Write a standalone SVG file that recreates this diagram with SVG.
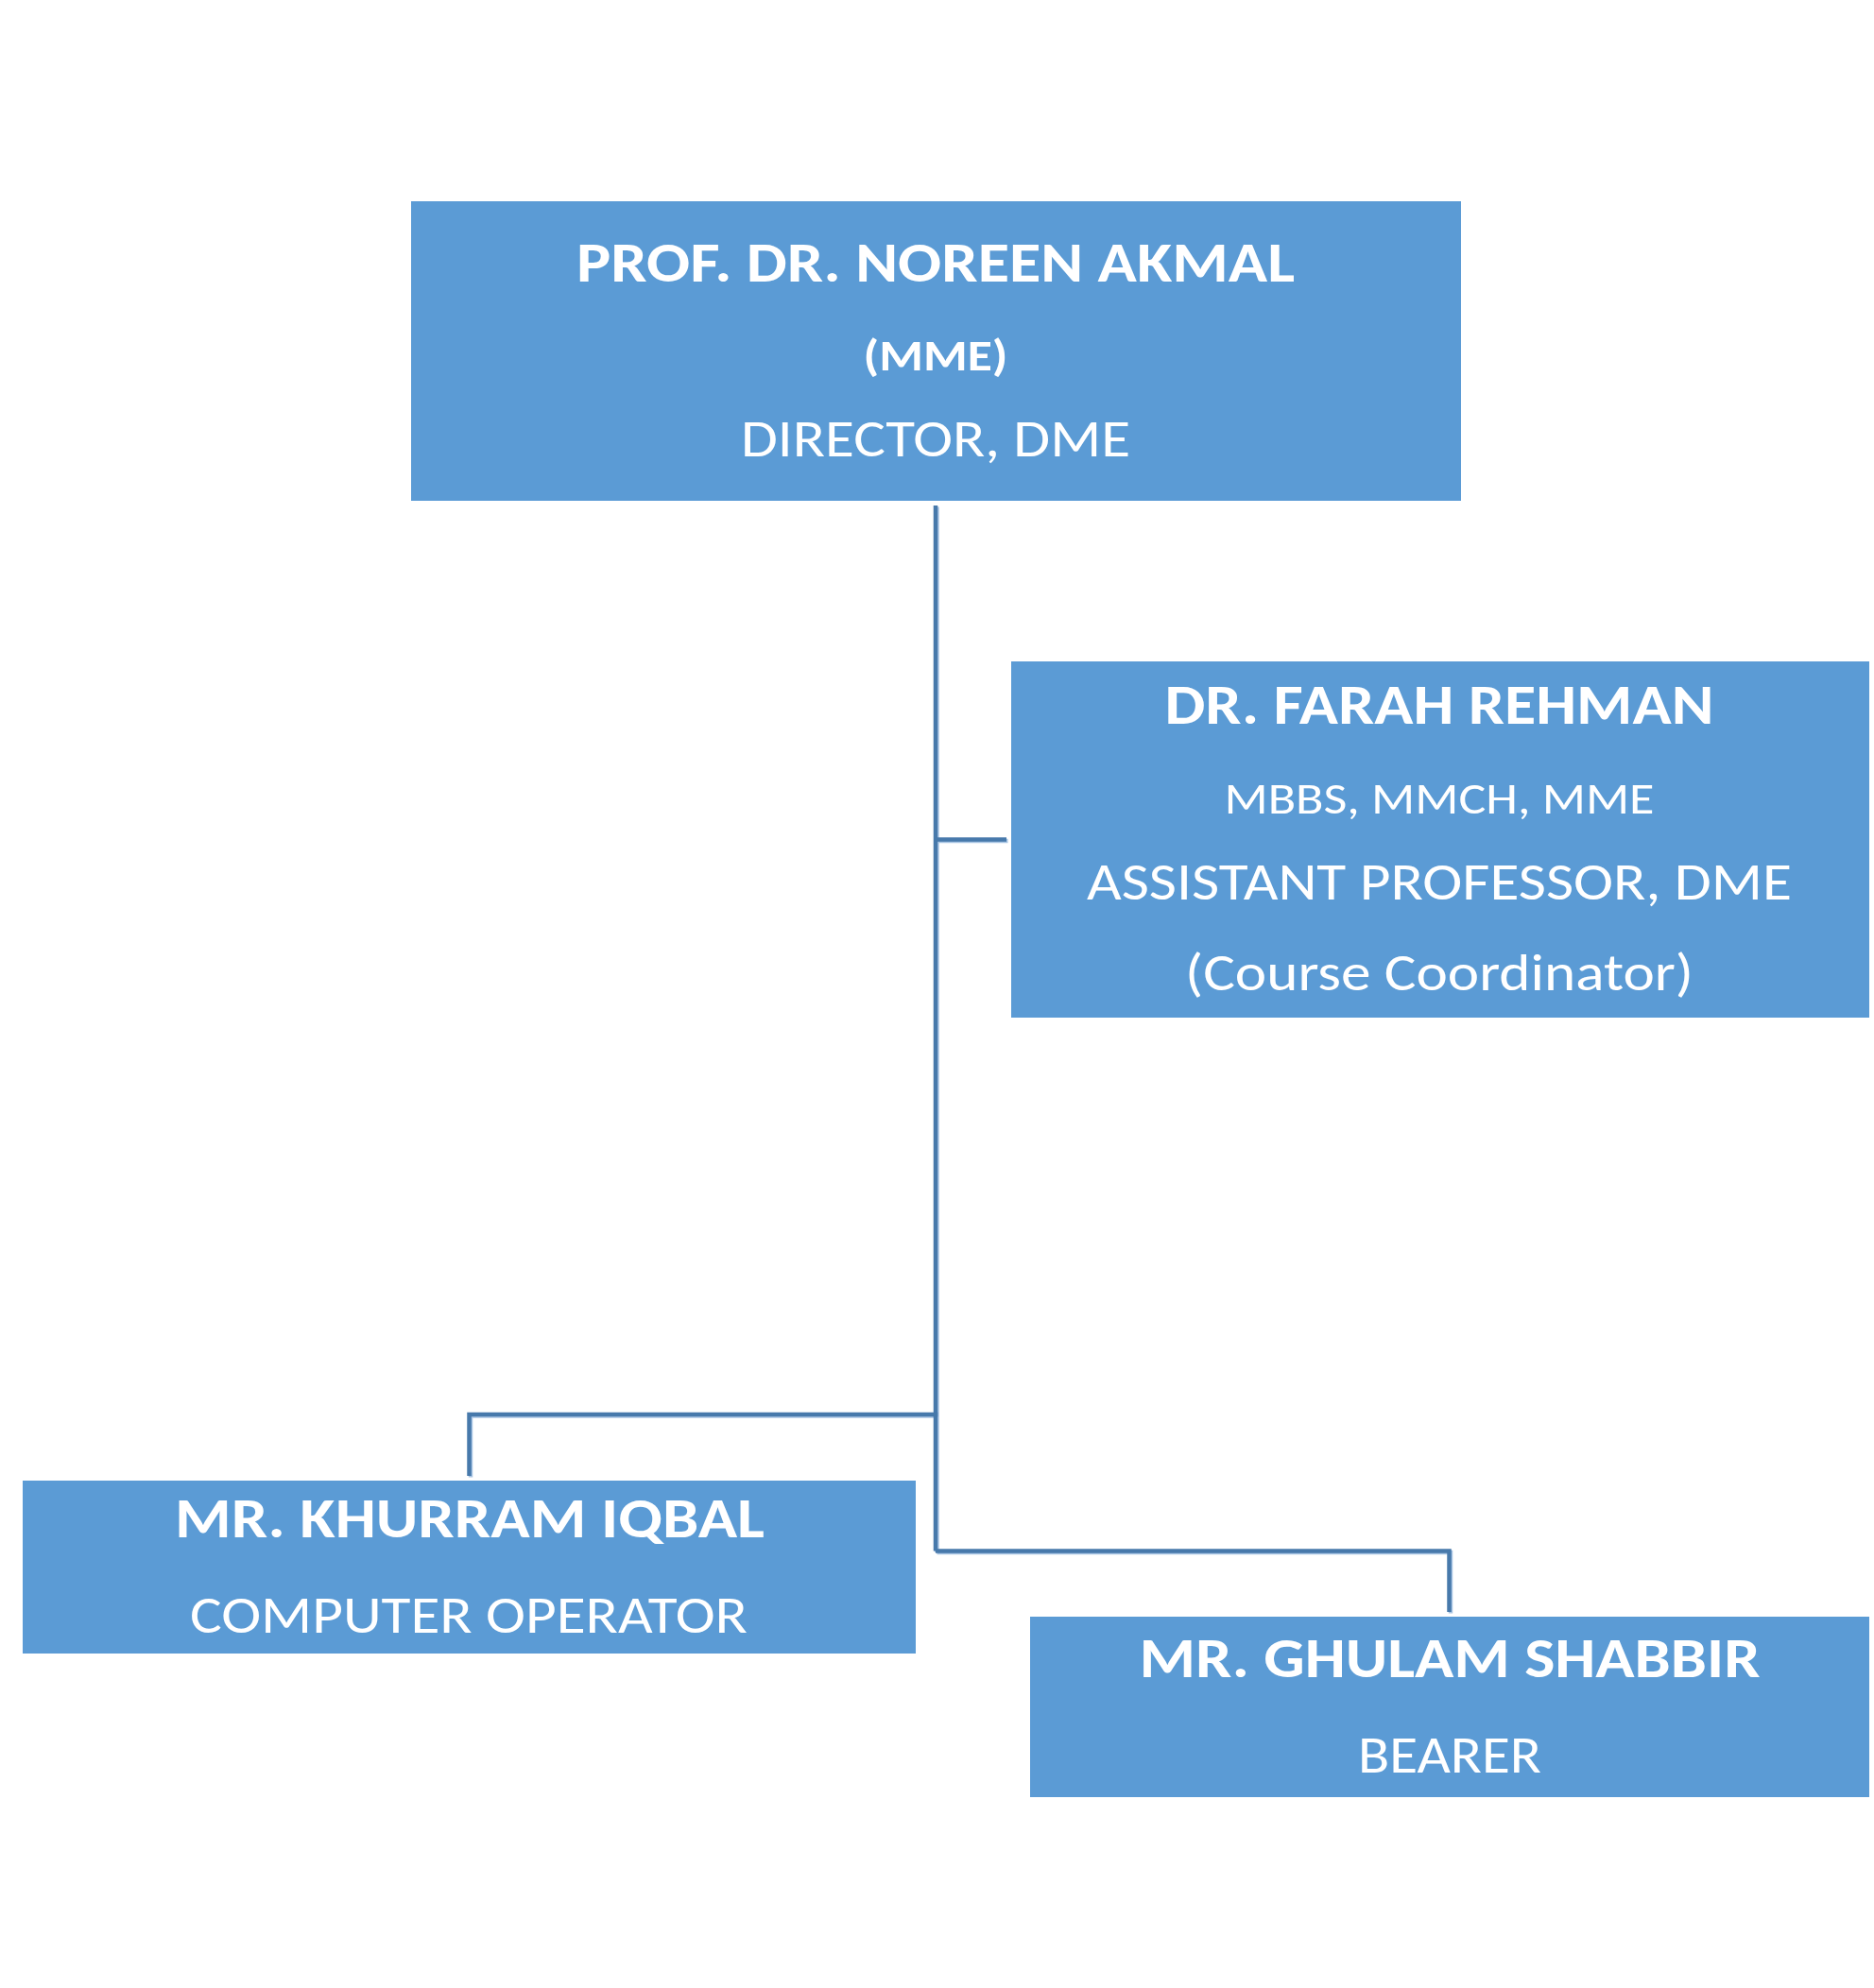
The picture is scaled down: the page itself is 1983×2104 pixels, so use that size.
<svg xmlns="http://www.w3.org/2000/svg" width="1983" height="2104" viewBox="0 0 1983 2104">
<style>
.box{fill:#5B9BD5}
.t{fill:#FFFFFF;font-family:Carlito,Calibri,Lato,"Open Sans",sans-serif}
.b{font-weight:bold}
.c{fill:none;stroke:#4779AB;stroke-width:4.5;stroke-linejoin:miter;stroke-linecap:butt}
.s{fill:none;stroke:#A9C5E4;stroke-width:4.5;stroke-linejoin:miter}
</style>
<rect x="0" y="0" width="1983" height="2104" fill="#FFFFFF"/>
<g id="connectors">
<g transform="translate(1.5,1.5)">
<path class="s" d="M990,535 V1641.5"/>
<path class="s" d="M990,888.5 H1065"/>
<path class="s" d="M990,1497 H496.5 V1562"/>
<path class="s" d="M990,1641.5 H1533.5 V1706"/>
</g>
<path class="c" d="M990,535 V1641.5"/>
<path class="c" d="M990,888.5 H1065"/>
<path class="c" d="M992.25,1497 H496.5 V1562"/>
<path class="c" d="M990,1641.5 H1533.5 V1706"/>
</g>
<g id="node-director">
<rect class="box" x="435" y="213" width="1111" height="317"/>
<text class="t b" x="610" y="298" font-size="60" textLength="760" lengthAdjust="spacingAndGlyphs">PROF. DR. NOREEN AKMAL</text>
<text class="t b" x="913.5" y="392" font-size="47" textLength="153" lengthAdjust="spacingAndGlyphs">(MME)</text>
<text class="t" x="784" y="483" font-size="56" textLength="412" lengthAdjust="spacingAndGlyphs">DIRECTOR, DME</text>
</g>
<g id="node-farah">
<rect class="box" x="1070" y="700" width="908" height="377"/>
<text class="t b" x="1232.5" y="766" font-size="60" textLength="581" lengthAdjust="spacingAndGlyphs">DR. FARAH REHMAN</text>
<text class="t" x="1295.5" y="861" font-size="48" textLength="455" lengthAdjust="spacingAndGlyphs">MBBS, MMCH, MME</text>
<text class="t" x="1150" y="952" font-size="55" textLength="746" lengthAdjust="spacingAndGlyphs">ASSISTANT PROFESSOR, DME</text>
<text class="t" x="1254" y="1048" font-size="56" textLength="538" lengthAdjust="spacingAndGlyphs">(Course Coordinator)</text>
</g>
<g id="node-khurram">
<rect class="box" x="24" y="1567" width="945" height="183"/>
<text class="t b" x="185" y="1627" font-size="60" textLength="624" lengthAdjust="spacingAndGlyphs">MR. KHURRAM IQBAL</text>
<text class="t" x="201" y="1728" font-size="56" textLength="590" lengthAdjust="spacingAndGlyphs">COMPUTER OPERATOR</text>
</g>
<g id="node-ghulam">
<rect class="box" x="1090" y="1711" width="888" height="191"/>
<text class="t b" x="1205.5" y="1775" font-size="60" textLength="657" lengthAdjust="spacingAndGlyphs">MR. GHULAM SHABBIR</text>
<text class="t" x="1437" y="1876" font-size="55" textLength="194" lengthAdjust="spacingAndGlyphs">BEARER</text>
</g>
</svg>
